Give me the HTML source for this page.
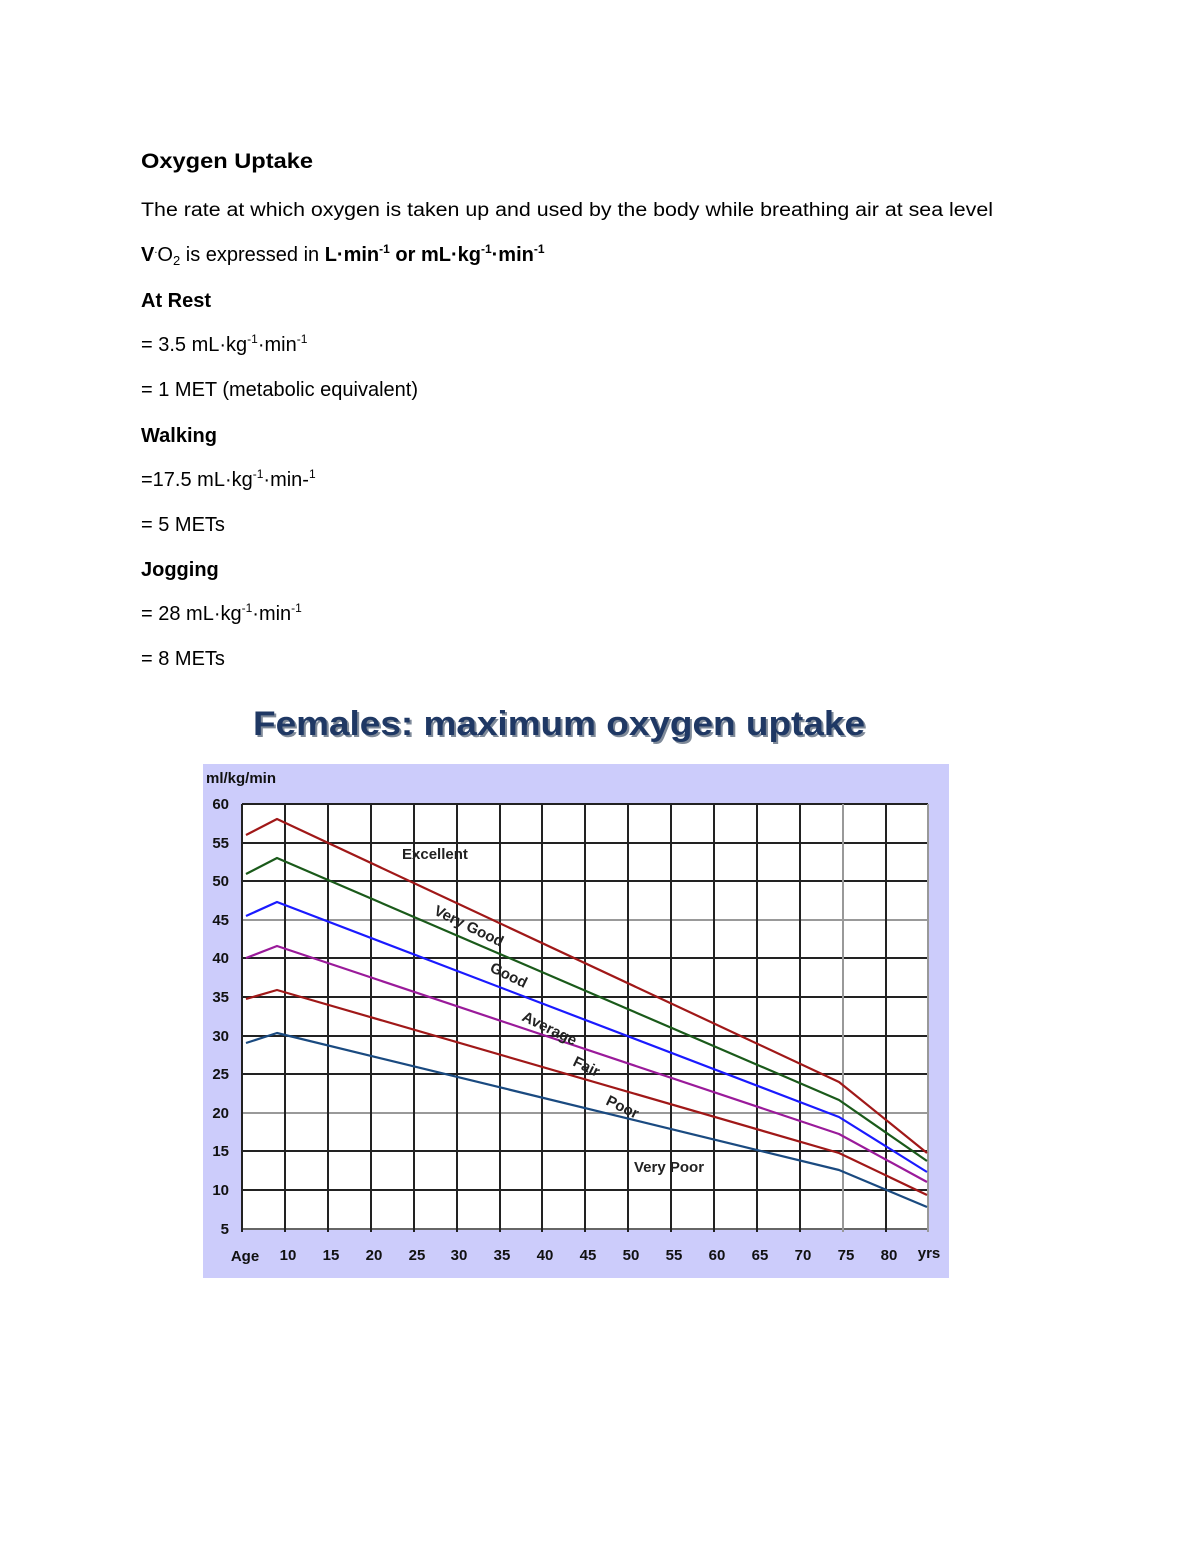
<!DOCTYPE html>
<html><head><meta charset="utf-8"><style>
html,body{margin:0;padding:0;background:#fff;}
svg{display:block;}
</style></head><body>
<svg width="1200" height="1553" viewBox="0 0 1200 1553" xmlns="http://www.w3.org/2000/svg" font-family="Liberation Sans, sans-serif">
<rect width="1200" height="1553" fill="#fff"/>
<text x="141" y="168" font-size="21" font-weight="bold" fill="#000" textLength="172" lengthAdjust="spacingAndGlyphs">Oxygen Uptake</text>
<text x="141" y="216" font-size="19" fill="#000" textLength="852" lengthAdjust="spacingAndGlyphs">The rate at which oxygen is taken up and used by the body while breathing air at sea level</text>
<text x="141" y="261" font-size="20" fill="#000"><tspan font-weight="bold">V</tspan><tspan font-size="11" dy="-8">.</tspan><tspan dy="8">O</tspan><tspan font-size="13" dy="4">2</tspan><tspan dy="-4"> is expressed in </tspan><tspan font-weight="bold">L·min</tspan><tspan font-size="12" dy="-8" font-weight="bold">-1</tspan><tspan dy="8" font-weight="bold">  or  mL·kg</tspan><tspan font-size="12" dy="-8" font-weight="bold">-1</tspan><tspan dy="8" font-weight="bold">·min</tspan><tspan font-size="12" dy="-8" font-weight="bold">-1</tspan></text>
<text x="141" y="307" font-size="20" font-weight="bold">At Rest</text>
<text x="141" y="351" font-size="20">= 3.5 mL·kg<tspan font-size="12" dy="-8">-1</tspan><tspan dy="8">·min</tspan><tspan font-size="12" dy="-8">-1</tspan></text>
<text x="141" y="396" font-size="20">= 1 MET (metabolic equivalent)</text>
<text x="141" y="442" font-size="20" font-weight="bold">Walking</text>
<text x="141" y="486" font-size="20">=17.5 mL·kg<tspan font-size="12" dy="-8">-1</tspan><tspan dy="8">·min-</tspan><tspan font-size="12" dy="-8">1</tspan></text>
<text x="141" y="531" font-size="20">= 5 METs</text>
<text x="141" y="576" font-size="20" font-weight="bold">Jogging</text>
<text x="141" y="620" font-size="20">= 28 mL·kg<tspan font-size="12" dy="-8">-1</tspan><tspan dy="8">·min</tspan><tspan font-size="12" dy="-8">-1</tspan></text>
<text x="141" y="665" font-size="20">= 8 METs</text>

<text x="255" y="737" font-size="34" font-weight="bold" fill="#7f8a99" textLength="612" lengthAdjust="spacingAndGlyphs">Females: maximum oxygen uptake</text>
<text x="253" y="735" font-size="34" font-weight="bold" fill="#1f3864" textLength="612" lengthAdjust="spacingAndGlyphs">Females: maximum oxygen uptake</text>

<rect x="203" y="764" width="746" height="514" fill="#ccccfb"/>
<rect x="242" y="804" width="686" height="425" fill="#fff"/>
<text x="206" y="783" font-size="15" font-weight="bold" fill="#111">ml/kg/min</text>
<g stroke="#222" stroke-width="2">
<line x1="242" y1="804" x2="928" y2="804"/>
<line x1="242" y1="843" x2="928" y2="843"/>
<line x1="242" y1="881" x2="928" y2="881"/>
<line x1="242" y1="920" x2="928" y2="920" stroke="#999"/>
<line x1="242" y1="958" x2="928" y2="958"/>
<line x1="242" y1="997" x2="928" y2="997"/>
<line x1="242" y1="1036" x2="928" y2="1036"/>
<line x1="242" y1="1074" x2="928" y2="1074"/>
<line x1="242" y1="1113" x2="928" y2="1113" stroke="#999"/>
<line x1="242" y1="1151" x2="928" y2="1151"/>
<line x1="242" y1="1190" x2="928" y2="1190"/>
<line x1="242" y1="1229" x2="928" y2="1229" stroke="#666"/>
<line x1="242" y1="804" x2="242" y2="1232"/>
<line x1="285" y1="804" x2="285" y2="1232"/>
<line x1="328" y1="804" x2="328" y2="1232"/>
<line x1="371" y1="804" x2="371" y2="1232"/>
<line x1="414" y1="804" x2="414" y2="1232"/>
<line x1="457" y1="804" x2="457" y2="1232"/>
<line x1="500" y1="804" x2="500" y2="1232"/>
<line x1="542" y1="804" x2="542" y2="1232"/>
<line x1="585" y1="804" x2="585" y2="1232"/>
<line x1="628" y1="804" x2="628" y2="1232"/>
<line x1="671" y1="804" x2="671" y2="1232"/>
<line x1="714" y1="804" x2="714" y2="1232"/>
<line x1="757" y1="804" x2="757" y2="1232"/>
<line x1="800" y1="804" x2="800" y2="1232"/>
<line x1="843" y1="804" x2="843" y2="1232" stroke="#999"/>
<line x1="886" y1="804" x2="886" y2="1232"/>
<line x1="928" y1="804" x2="928" y2="1232" stroke="#999"/>
</g>
<g font-size="15" font-weight="bold" fill="#111" text-anchor="end">
<text x="229" y="809">60</text><text x="229" y="848">55</text><text x="229" y="886">50</text><text x="229" y="925">45</text><text x="229" y="963">40</text><text x="229" y="1002">35</text><text x="229" y="1041">30</text><text x="229" y="1079">25</text><text x="229" y="1118">20</text><text x="229" y="1156">15</text><text x="229" y="1195">10</text><text x="229" y="1234">5</text>
</g>
<g font-size="15" font-weight="bold" fill="#111" text-anchor="middle">
<text x="245" y="1261">Age</text><text x="288" y="1260">10</text><text x="331" y="1260">15</text><text x="374" y="1260">20</text><text x="417" y="1260">25</text><text x="459" y="1260">30</text><text x="502" y="1260">35</text><text x="545" y="1260">40</text><text x="588" y="1260">45</text><text x="631" y="1260">50</text><text x="674" y="1260">55</text><text x="717" y="1260">60</text><text x="760" y="1260">65</text><text x="803" y="1260">70</text><text x="846" y="1260">75</text><text x="889" y="1260">80</text><text x="929" y="1258">yrs</text>
</g>
<g fill="none" stroke-width="2.2" stroke-linejoin="round">
<polyline stroke="#a01818" points="246,835 277,819 839,1082 927,1153"/>
<polyline stroke="#1a5a1a" points="246,874 277,858 839,1100 927,1161"/>
<polyline stroke="#1a1aff" points="246,916 277,902 839,1117 927,1172"/>
<polyline stroke="#9a1a9a" points="246,958 277,946 839,1134 927,1182"/>
<polyline stroke="#a01818" points="246,999 277,990 839,1153 927,1195"/>
<polyline stroke="#1a4a80" points="246,1043 277,1033 839,1170 927,1207"/>
</g>
<g font-size="15" font-weight="bold" fill="#222">
<text x="402" y="859">Excellent</text>
<text transform="translate(433,914) rotate(26)">Very Good</text>
<text transform="translate(489,971) rotate(26)">Good</text>
<text transform="translate(521,1020) rotate(26)">Average</text>
<text transform="translate(572,1065) rotate(26)">Fair</text>
<text transform="translate(605,1104) rotate(26)">Poor</text>
<text x="634" y="1172">Very Poor</text>
</g>
</svg>
</body></html>
